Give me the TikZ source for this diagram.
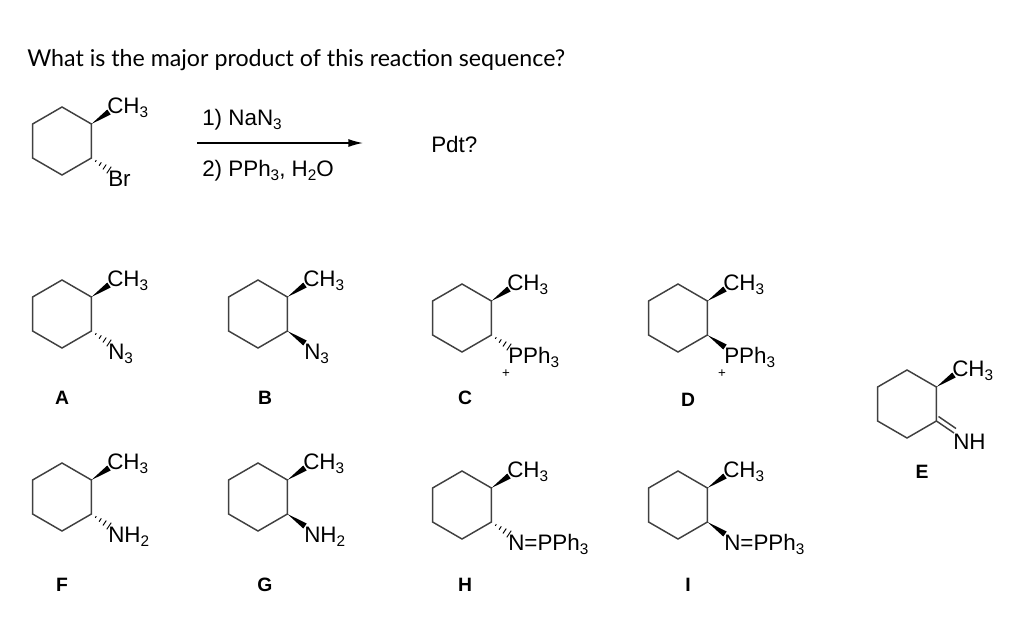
\documentclass[tikz,border=0pt]{standalone}
\usepackage{fontspec}
\usetikzlibrary{arrows.meta}
\setmainfont{Liberation Sans}
\newfontfamily\titlefont{Lato}
\newcommand\lowsub[1]{\raisebox{-0.4ex}{\fontsize{11.5}{11}\selectfont #1}}
\tikzset{bond/.style={line width=1.1pt,draw=black!75},
 lab/.style={font=\fontsize{16.8}{18}\selectfont,inner sep=0pt},
 letter/.style={font=\fontsize{14.5}{16}\selectfont\bfseries,inner sep=0pt}}
\newcommand\mol[5]{%
\begin{scope}[shift={(#1,#2)}]
\draw[bond] (0,-34)--(29.4,-17)--(29.4,17)--(0,34)--(-29.4,17)--(-29.4,-17)--cycle;
\fill (29.4,-17)--(48.7,-26.5)--(45.3,-31.5)--cycle;
\node[lab,anchor=base west] (t) at (45,-28) {CH\lowsub{3}};
\ifx#3h
 \foreach \t in {0.25,0.5,0.75,1.0}
  \draw[line width=0.7pt] ({29.4+17.6*\t-2.2*\t},{17+12*\t+3.3*\t})--({29.4+17.6*\t+2.2*\t},{17+12*\t-3.3*\t});
\fi
\ifx#3w
 \fill (29.4,17)--(48.7,26.5)--(45.3,31.5)--cycle;
\fi
\ifx#3d
 \draw[bond] (29.4,17)--(47,29);
 \draw[bond] (31.5,12.5)--(49,24.5);
\fi
\node[lab,anchor=base west] (b) at (46,45) {#4};
#5
\end{scope}}
\begin{document}
\begin{tikzpicture}[x=0.75pt,y=-0.75pt]
\useasboundingbox (0,0) rectangle (1024,632);
\node[anchor=base west,inner sep=0pt,font=\titlefont\fontsize{17.4}{20}\selectfont] (title) at (27,66) {What is the major product of this reaction sequence?};
\mol{62}{141}{h}{Br}{}
\coordinate (a1) at (197,143); \coordinate (a2) at (363,143);
\draw[line width=1pt,-{Latex[length=11pt,width=6pt]}] (a1)--(a2);
\node[lab,anchor=base west] (r1) at (202,125) {1) NaN\lowsub{3}};
\node[lab,anchor=base west] (r2) at (202,176) {2) PPh\lowsub{3}, H\lowsub{2}O};
\node[lab,anchor=base west] (pdt) at (431,152) {Pdt?};
\mol{62}{314}{h}{N\lowsub{3}}{}
\mol{258}{314}{w}{N\lowsub{3}}{}
\mol{462}{318}{h}{PPh\lowsub{3}}{\node[font=\fontsize{10}{10}\selectfont] (p1) at (44,56) {+};}
\mol{678}{318}{w}{PPh\lowsub{3}}{\node[font=\fontsize{10}{10}\selectfont] (p2) at (44,56) {+};}
\mol{907}{404}{d}{NH}{}
\mol{62}{497}{h}{NH\lowsub{2}}{}
\mol{258}{497}{w}{NH\lowsub{2}}{}
\mol{462}{505}{h}{N=PPh\lowsub{3}}{}
\mol{678}{505}{w}{N=PPh\lowsub{3}}{}
\node[letter] (A) at (62,398) {A};
\node[letter] (B) at (265,398) {B};
\node[letter] (C) at (465,398) {C};
\node[letter] (D) at (688,400) {D};
\node[letter] (E) at (922,472) {E};
\node[letter] (F) at (62,585) {F};
\node[letter] (G) at (265,585) {G};
\node[letter] (H) at (465,585) {H};
\node[letter] (I) at (688,585) {I};
\end{tikzpicture}
\end{document}
